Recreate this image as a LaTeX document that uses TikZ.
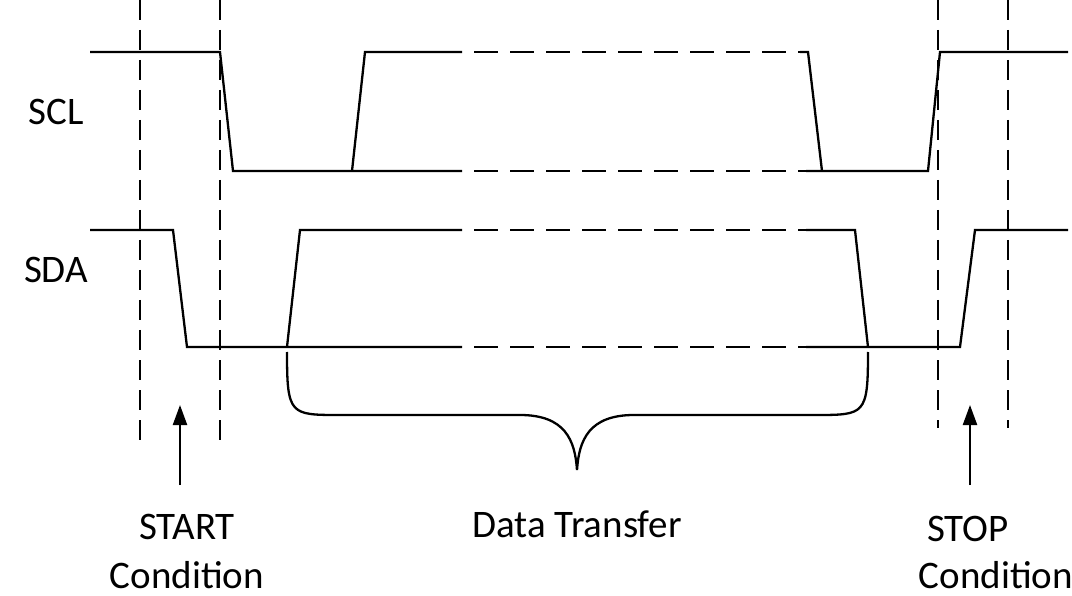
\documentclass[tikz,border=0pt]{standalone}
\usepackage{fontspec}
\setmainfont{Carlito}
\usetikzlibrary{arrows.meta}
\begin{document}
\begin{tikzpicture}[x=1pt,y=-1pt,
  sig/.style={line width=2.3pt,line join=miter},
  dsig/.style={line width=2.3pt,dash pattern=on 24pt off 12pt,dash phase=24pt},
  guide/.style={line width=1.8pt,dash pattern=on 20pt off 10pt},
  lbl/.style={font=\fontsize{39}{44}\selectfont,inner sep=0pt},
  arr/.style={line width=2.3pt,-{Triangle[length=20pt,width=14pt]}}]
\useasboundingbox (0,0) rectangle (1072,596);
\fill[white] (0,0) rectangle (1072,596);
% guides
\draw[guide] (140,0) -- (140,440);
\draw[guide] (220,0) -- (220,440);
\draw[guide] (938,0) -- (938,428);
\draw[guide] (1008,0) -- (1008,428);
% SCL
\draw[sig] (90,52) -- (220,52) -- (233,171) -- (462,171);
\draw[dsig] (462,171) -- (806,171);
\draw[sig] (806,171) -- (928,171) -- (940,52) -- (1068,52);
\draw[sig] (352,171) -- (365,52) -- (462,52);
\draw[dsig] (462,52) -- (806,52);
\draw[sig] (800,52) -- (808,52) -- (822,171);
% SDA
\draw[sig] (90,230) -- (173,230) -- (187,347) -- (462,347);
\draw[dsig] (462,347) -- (806,347);
\draw[sig] (806,347) -- (960,347) -- (975,230) -- (1068,230);
\draw[sig] (287,347) -- (300,230) -- (462,230);
\draw[dsig] (462,230) -- (806,230);
\draw[sig] (806,230) -- (855,230) -- (868,347);
% brace
\draw[sig] (287,352) .. controls (287,415) and (290,415) .. (340,415) -- (520,415)
  .. controls (565,415) and (575,440) .. (577,470)
  .. controls (579,440) and (589,415) .. (634,415) -- (815,415)
  .. controls (865,415) and (868,415) .. (868,352);
% arrows
\coordinate (a1) at (180,485); \coordinate (a1t) at (180,405);
\coordinate (a2) at (970,485); \coordinate (a2t) at (970,405);
\draw[arr] (a1) -- (a1t);
\draw[arr] (a2) -- (a2t);
% labels
\node[lbl] (scl) at (56,112) {SCL};
\node[lbl] (sda) at (56,270) {SDA};
\node[lbl] (st) at (187,527) {START};
\node[lbl] (c1) at (187,575) {Condition};
\node[lbl] (dt) at (577,524) {Data Transfer};
\node[lbl] (sp) at (968,529) {STOP};
\node[lbl] (c2) at (996,575) {Condition};
\end{tikzpicture}
\end{document}
